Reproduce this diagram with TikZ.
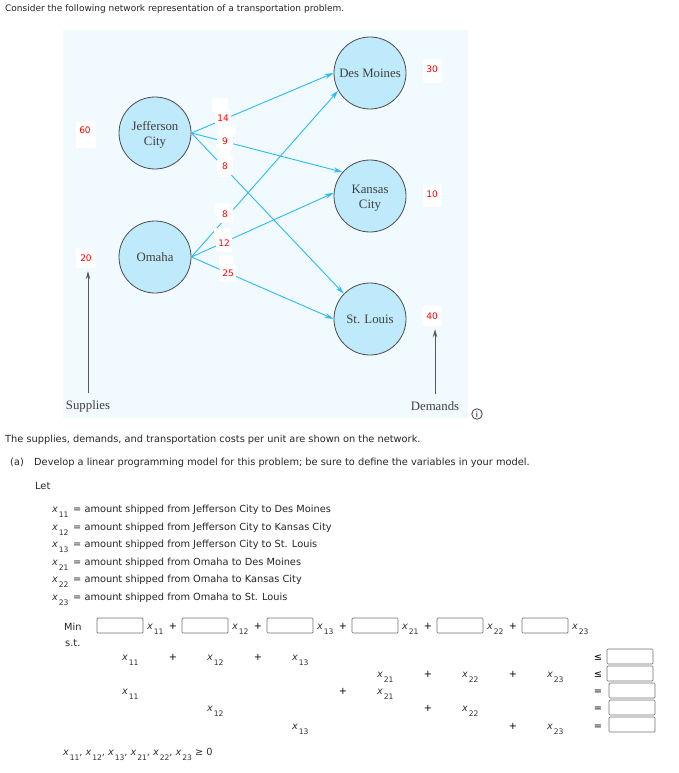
\documentclass[tikz,border=0pt]{standalone}
\usepackage{fontspec}
\setmainfont{DejaVu Sans}
\newfontfamily\serifcity{Liberation Serif}
\usepackage{tikz}
\definecolor{panelblue}{HTML}{F0FAFF}
\definecolor{cityblue}{HTML}{BFEAFB}
\definecolor{arcblue}{HTML}{2BBBF5}
\newcommand{\xv}[1]{{\itshape x}\kern0.8pt\raisebox{-5pt}{\fontsize{7.6}{9}\selectfont #1}}
\newcommand{\lowered}[1]{\rule{0pt}{13pt}#1}
\tikzset{
	txt/.style={anchor=base west, inner sep=0, text=black!85, font=\fontsize{9.8}{11}\selectfont},
	city/.style={draw=black!70, line width=0.8pt, fill=cityblue, circle, minimum size=72pt, inner sep=0, align=center, text=black!75, font=\serifcity\fontsize{12.8}{15}\selectfont},
	route/.style={draw=arcblue, line width=0.9pt, -{Stealth[length=9pt, width=5pt]}},
	num/.style={fill=white, rounded corners=2pt, text=red, inner sep=0, minimum width=16pt, minimum height=18pt, font=\fontsize{9}{10}\selectfont},
	patch/.style={fill=white, rounded corners=2pt},
	upline/.style={draw=black!65, line width=0.9pt, shorten <=7pt, shorten >=3pt, -{Stealth[length=8pt, width=4.5pt]}},
	tag/.style={inner sep=0, text=black!75, font=\serifcity\fontsize{12.8}{15}\selectfont},
	inbox/.style={draw=black!55, line width=0.7pt, rounded corners=1pt, fill=white, minimum width=46pt, minimum height=15pt, inner sep=0},
	term/.style={anchor=base west, inner sep=0, text=black!80, font=\fontsize{9.8}{11}\selectfont},
	opsign/.style={anchor=base, inner sep=0, text=black, font=\fontsize{9.8}{11}\selectfont}
}
\usetikzlibrary{arrows.meta}

\begin{document}
\begin{tikzpicture}[x=1pt, y=-1pt]
		\useasboundingbox (0, 0) rectangle (678, 773);
		\filldraw[white] (0, 0) rectangle (678, 773);

		\node[txt, font=\fontsize{9}{11}\selectfont] (T1) at (5, 12) {Consider the following network representation of a transportation problem.};

		\fill[panelblue] (63, 30) rectangle (468, 418);

		\node[city] (J1) at (155, 133) {\lowered{Jefferson}\\City};
		\node[city] (O1) at (155, 257) {Omaha};
		\node[city] (D1) at (370, 73) {Des Moines};
		\node[city] (K1) at (370, 196) {\lowered{Kansas}\\City};
		\node[city] (S1) at (370, 319) {St. Louis};

		\draw[route] (J1.east) -- (D1.west);
		\draw[route] (J1.east) -- (K1.139);
		\draw[route] (J1.east) -- (S1.136);
		\draw[route] (O1.east) -- (D1.209);
		\draw[route] (O1.east) -- (K1.175);
		\draw[route] (O1.east) -- (S1.west);

		\fill[patch] (212, 98) rectangle (228, 112);
		\fill[patch] (218, 125) rectangle (236, 135);
		\fill[patch] (218, 150) rectangle (231, 177);
		\fill[patch] (214, 203) rectangle (231, 215);
		\fill[patch] (214, 228) rectangle (231, 240);
		\fill[patch] (219, 255) rectangle (233, 270);
		\fill[patch] (76, 121) rectangle (96, 148);
		\fill[patch] (423, 59) rectangle (442, 83);
		\fill[patch] (423, 184) rectangle (442, 207);

		\node[num] (C1) at (223, 118) {14};
		\node[num] (C2) at (225, 141) {9};
		\node[num] (C3) at (225, 166) {8};
		\node[num] (C4) at (225, 214) {8};
		\node[num] (C5) at (224, 243) {12};
		\node[num] (C6) at (228, 273) {25};

		\node[num] (N1) at (85, 130) {60};
		\node[num, minimum width=20pt, minimum height=20pt] (N2) at (86, 258) {20};
		\node[num] (N3) at (432, 69) {30};
		\node[num] (N4) at (432, 194) {10};
		\node[num, minimum width=20pt, minimum height=20pt] (N5) at (432, 316) {40};

		\node[tag] (L1) at (88, 406) {Supplies};
		\node[tag] (L2) at (435, 406) {Demands};

		\draw[upline] (L1.north) -- (L1.north |- N2.south);
		\draw[upline] (L2.north) -- (L2.north |- N5.south);

		\node[draw=black!75, line width=0.8pt, circle, minimum size=10.5pt, inner sep=0, font=\fontsize{8}{9}\selectfont] (I1) at (477, 414) {i};

		\node[txt] (T2) at (5, 442) {The supplies, demands, and transportation costs per unit are shown on the network.};
		\node[txt] (T3) at (10, 465) {(a)};
		\node[txt] (T4) at (34, 465) {Develop a linear programming model for this problem; be sure to define the variables in your model.};
		\node[txt] (T5) at (35, 489) {Let};

		\node[term] (V1) at (52, 512) {\xv{11}};
		\node[term] (V2) at (52, 530) {\xv{12}};
		\node[term] (V3) at (52, 547) {\xv{13}};
		\node[term] (V4) at (52, 565) {\xv{21}};
		\node[term] (V5) at (52, 582) {\xv{22}};
		\node[term] (V6) at (52, 600) {\xv{23}};

		\node[txt] (E1) at (73, 512) {= amount shipped from Jefferson City to Des Moines};
		\node[txt] (E2) at (73, 530) {= amount shipped from Jefferson City to Kansas City};
		\node[txt] (E3) at (73, 547) {= amount shipped from Jefferson City to St. Louis};
		\node[txt] (E4) at (73, 565) {= amount shipped from Omaha to Des Moines};
		\node[txt] (E5) at (73, 582) {= amount shipped from Omaha to Kansas City};
		\node[txt] (E6) at (73, 600) {= amount shipped from Omaha to St. Louis};

		\node[txt] (M1) at (64, 630) {Min};
		\node[txt] (M2) at (65, 646) {s.t.};

		\node[inbox] (B1) at (120, 625.5) {};
		\node[inbox] (B2) at (205, 625.5) {};
		\node[inbox] (B3) at (290, 625.5) {};
		\node[inbox] (B4) at (375, 625.5) {};
		\node[inbox] (B5) at (460, 625.5) {};
		\node[inbox] (B6) at (545, 625.5) {};

		\node[term] (A1) at (147, 629) {\xv{11}};
		\node[term] (A2) at (232, 629) {\xv{12}};
		\node[term] (A3) at (317, 629) {\xv{13}};
		\node[term] (A4) at (402, 629) {\xv{21}};
		\node[term] (A5) at (487, 629) {\xv{22}};
		\node[term] (A6) at (572, 629) {\xv{23}};

		\node[opsign] (P1) at (173, 629) {+};
		\node[opsign] (P2) at (258, 629) {+};
		\node[opsign] (P3) at (343, 629) {+};
		\node[opsign] (P4) at (428, 629) {+};
		\node[opsign] (P5) at (513, 629) {+};

		\node[term] (R11) at (122, 660) {\xv{11}};
		\node[opsign] (R12) at (173, 660) {+};
		\node[term] (R13) at (207, 660) {\xv{12}};
		\node[opsign] (R14) at (258, 660) {+};
		\node[term] (R15) at (292, 660) {\xv{13}};
		\node[opsign] (R16) at (598, 660) {≤};
		\node[inbox] (R17) at (630, 656.5) {};

		\node[term] (R21) at (377, 677) {\xv{21}};
		\node[opsign] (R22) at (428, 677) {+};
		\node[term] (R23) at (462, 677) {\xv{22}};
		\node[opsign] (R24) at (513, 677) {+};
		\node[term] (R25) at (547, 677) {\xv{23}};
		\node[opsign] (R26) at (598, 677) {≤};
		\node[inbox] (R27) at (630, 673.5) {};

		\node[term] (R31) at (122, 694) {\xv{11}};
		\node[opsign] (R32) at (343, 694) {+};
		\node[term] (R33) at (377, 694) {\xv{21}};
		\node[opsign] (R34) at (598, 694) {=};
		\node[inbox] (R35) at (632, 690.5) {};

		\node[term] (R41) at (207, 711) {\xv{12}};
		\node[opsign] (R42) at (428, 711) {+};
		\node[term] (R43) at (462, 711) {\xv{22}};
		\node[opsign] (R44) at (598, 711) {=};
		\node[inbox] (R45) at (632, 707.5) {};

		\node[term] (R51) at (292, 729) {\xv{13}};
		\node[opsign] (R52) at (513, 729) {+};
		\node[term] (R53) at (547, 729) {\xv{23}};
		\node[opsign] (R54) at (598, 729) {=};
		\node[inbox] (R55) at (632, 724.5) {};

		\node[term] (Z1) at (63, 755) {\xv{11}, \xv{12}, \xv{13}, \xv{21}, \xv{22}, \xv{23} ≥ 0};
	\end{tikzpicture}
\end{document}
